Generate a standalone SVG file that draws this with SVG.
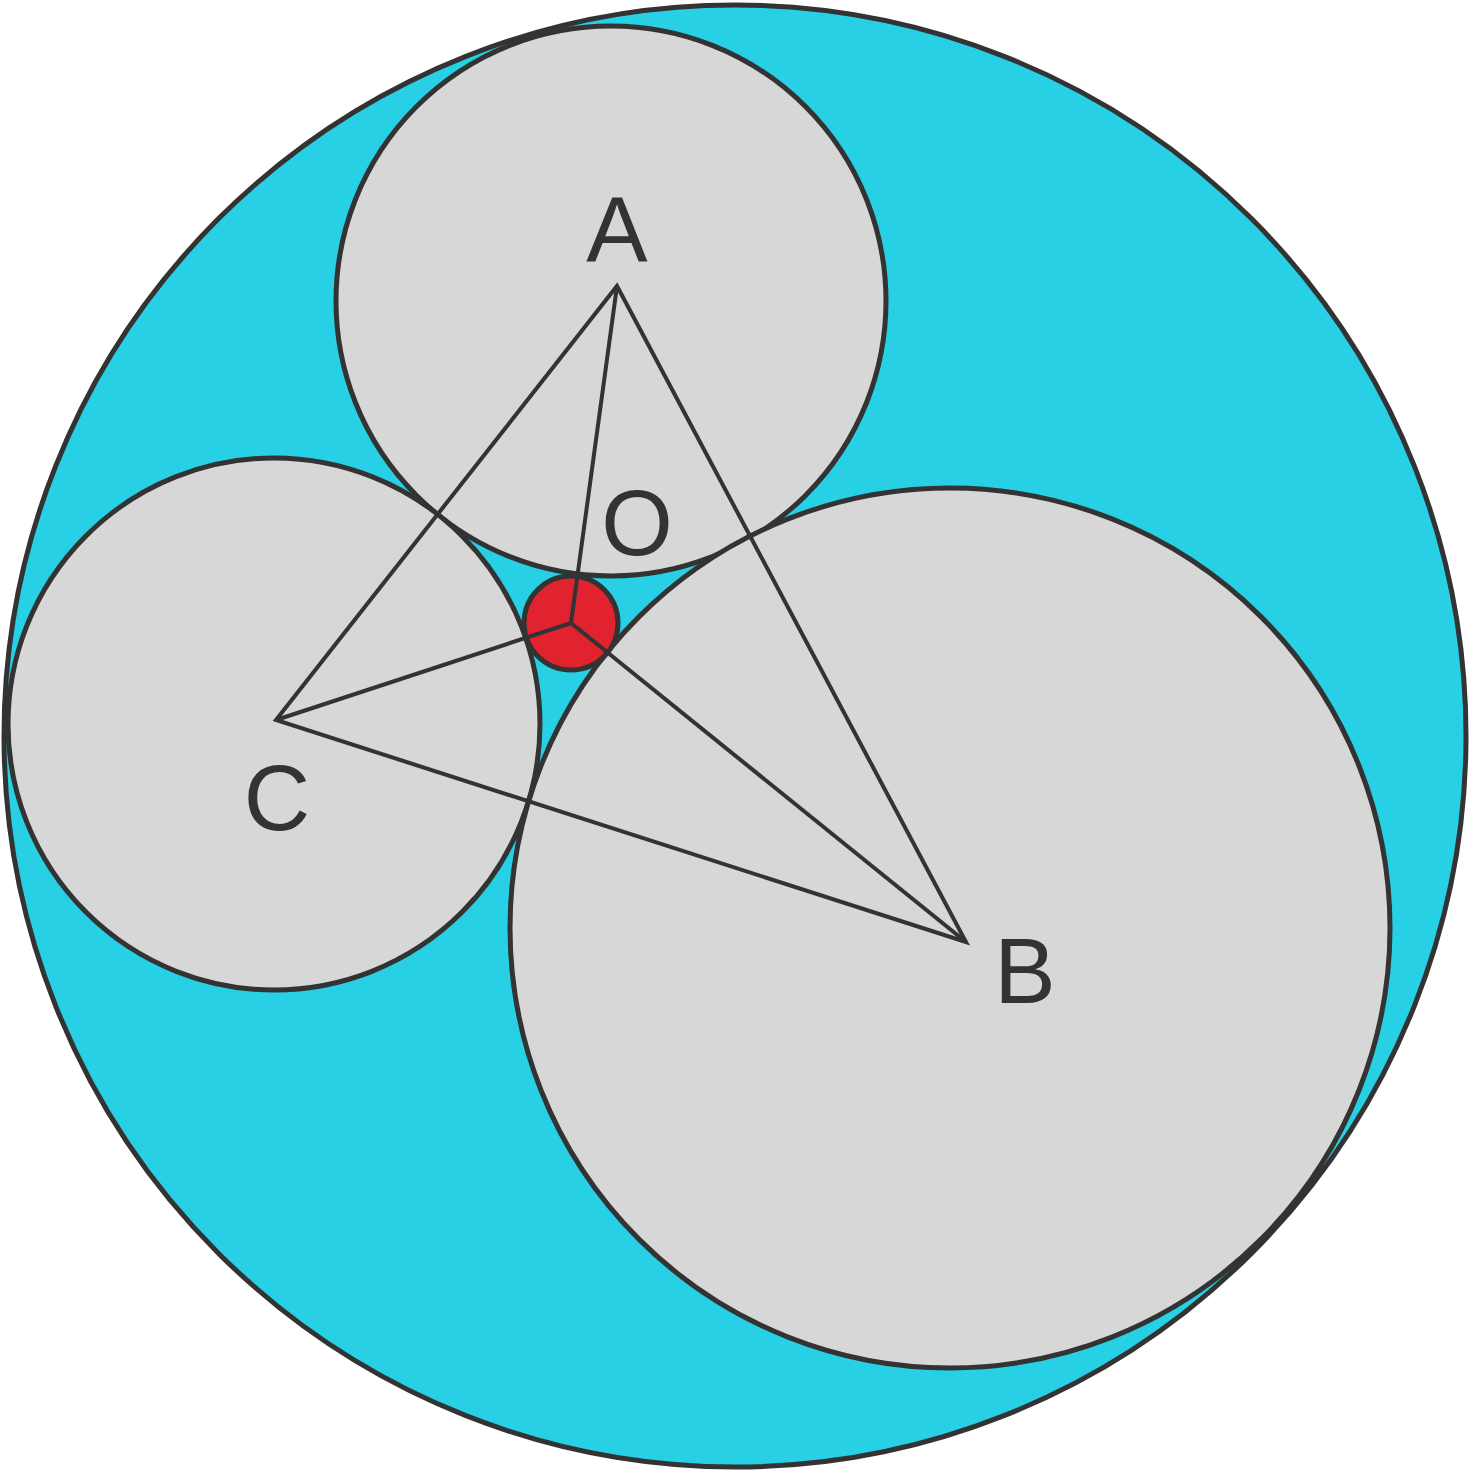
<svg xmlns="http://www.w3.org/2000/svg" width="1472" height="1472" viewBox="0 0 1472 1472">
<style>
.c{fill:#d7d7d7;stroke:#333;stroke-width:5}
.l{stroke:#333;stroke-width:4;fill:none}
text{font-family:"Liberation Sans",Arial,sans-serif;font-size:92px;fill:#333;text-anchor:middle}
</style>
<g id="outer"><circle cx="735" cy="736" r="731" fill="#27d0e4" stroke="#333" stroke-width="5"/></g>
<g id="circleA"><circle class="c" cx="611" cy="301" r="275"/></g>
<g id="circleC"><circle class="c" cx="274" cy="724" r="266"/></g>
<g id="circleB"><circle class="c" cx="950" cy="928" r="440"/></g>
<g id="circleO"><circle cx="571" cy="623" r="47" fill="#e0232f" stroke="#333" stroke-width="5"/></g>
<g id="connectors">
<polygon class="l" points="617,286 966,942 276,720"/>
<line class="l" x1="571" y1="623" x2="617" y2="286"/>
<line class="l" x1="571" y1="623" x2="966" y2="942"/>
<line class="l" x1="571" y1="623" x2="276" y2="720"/>
</g>
<g id="labels">
<text x="617" y="262">A</text>
<text x="637" y="555">O</text>
<text x="277" y="830">C</text>
<text x="1025" y="1003">B</text>
</g>
</svg>
